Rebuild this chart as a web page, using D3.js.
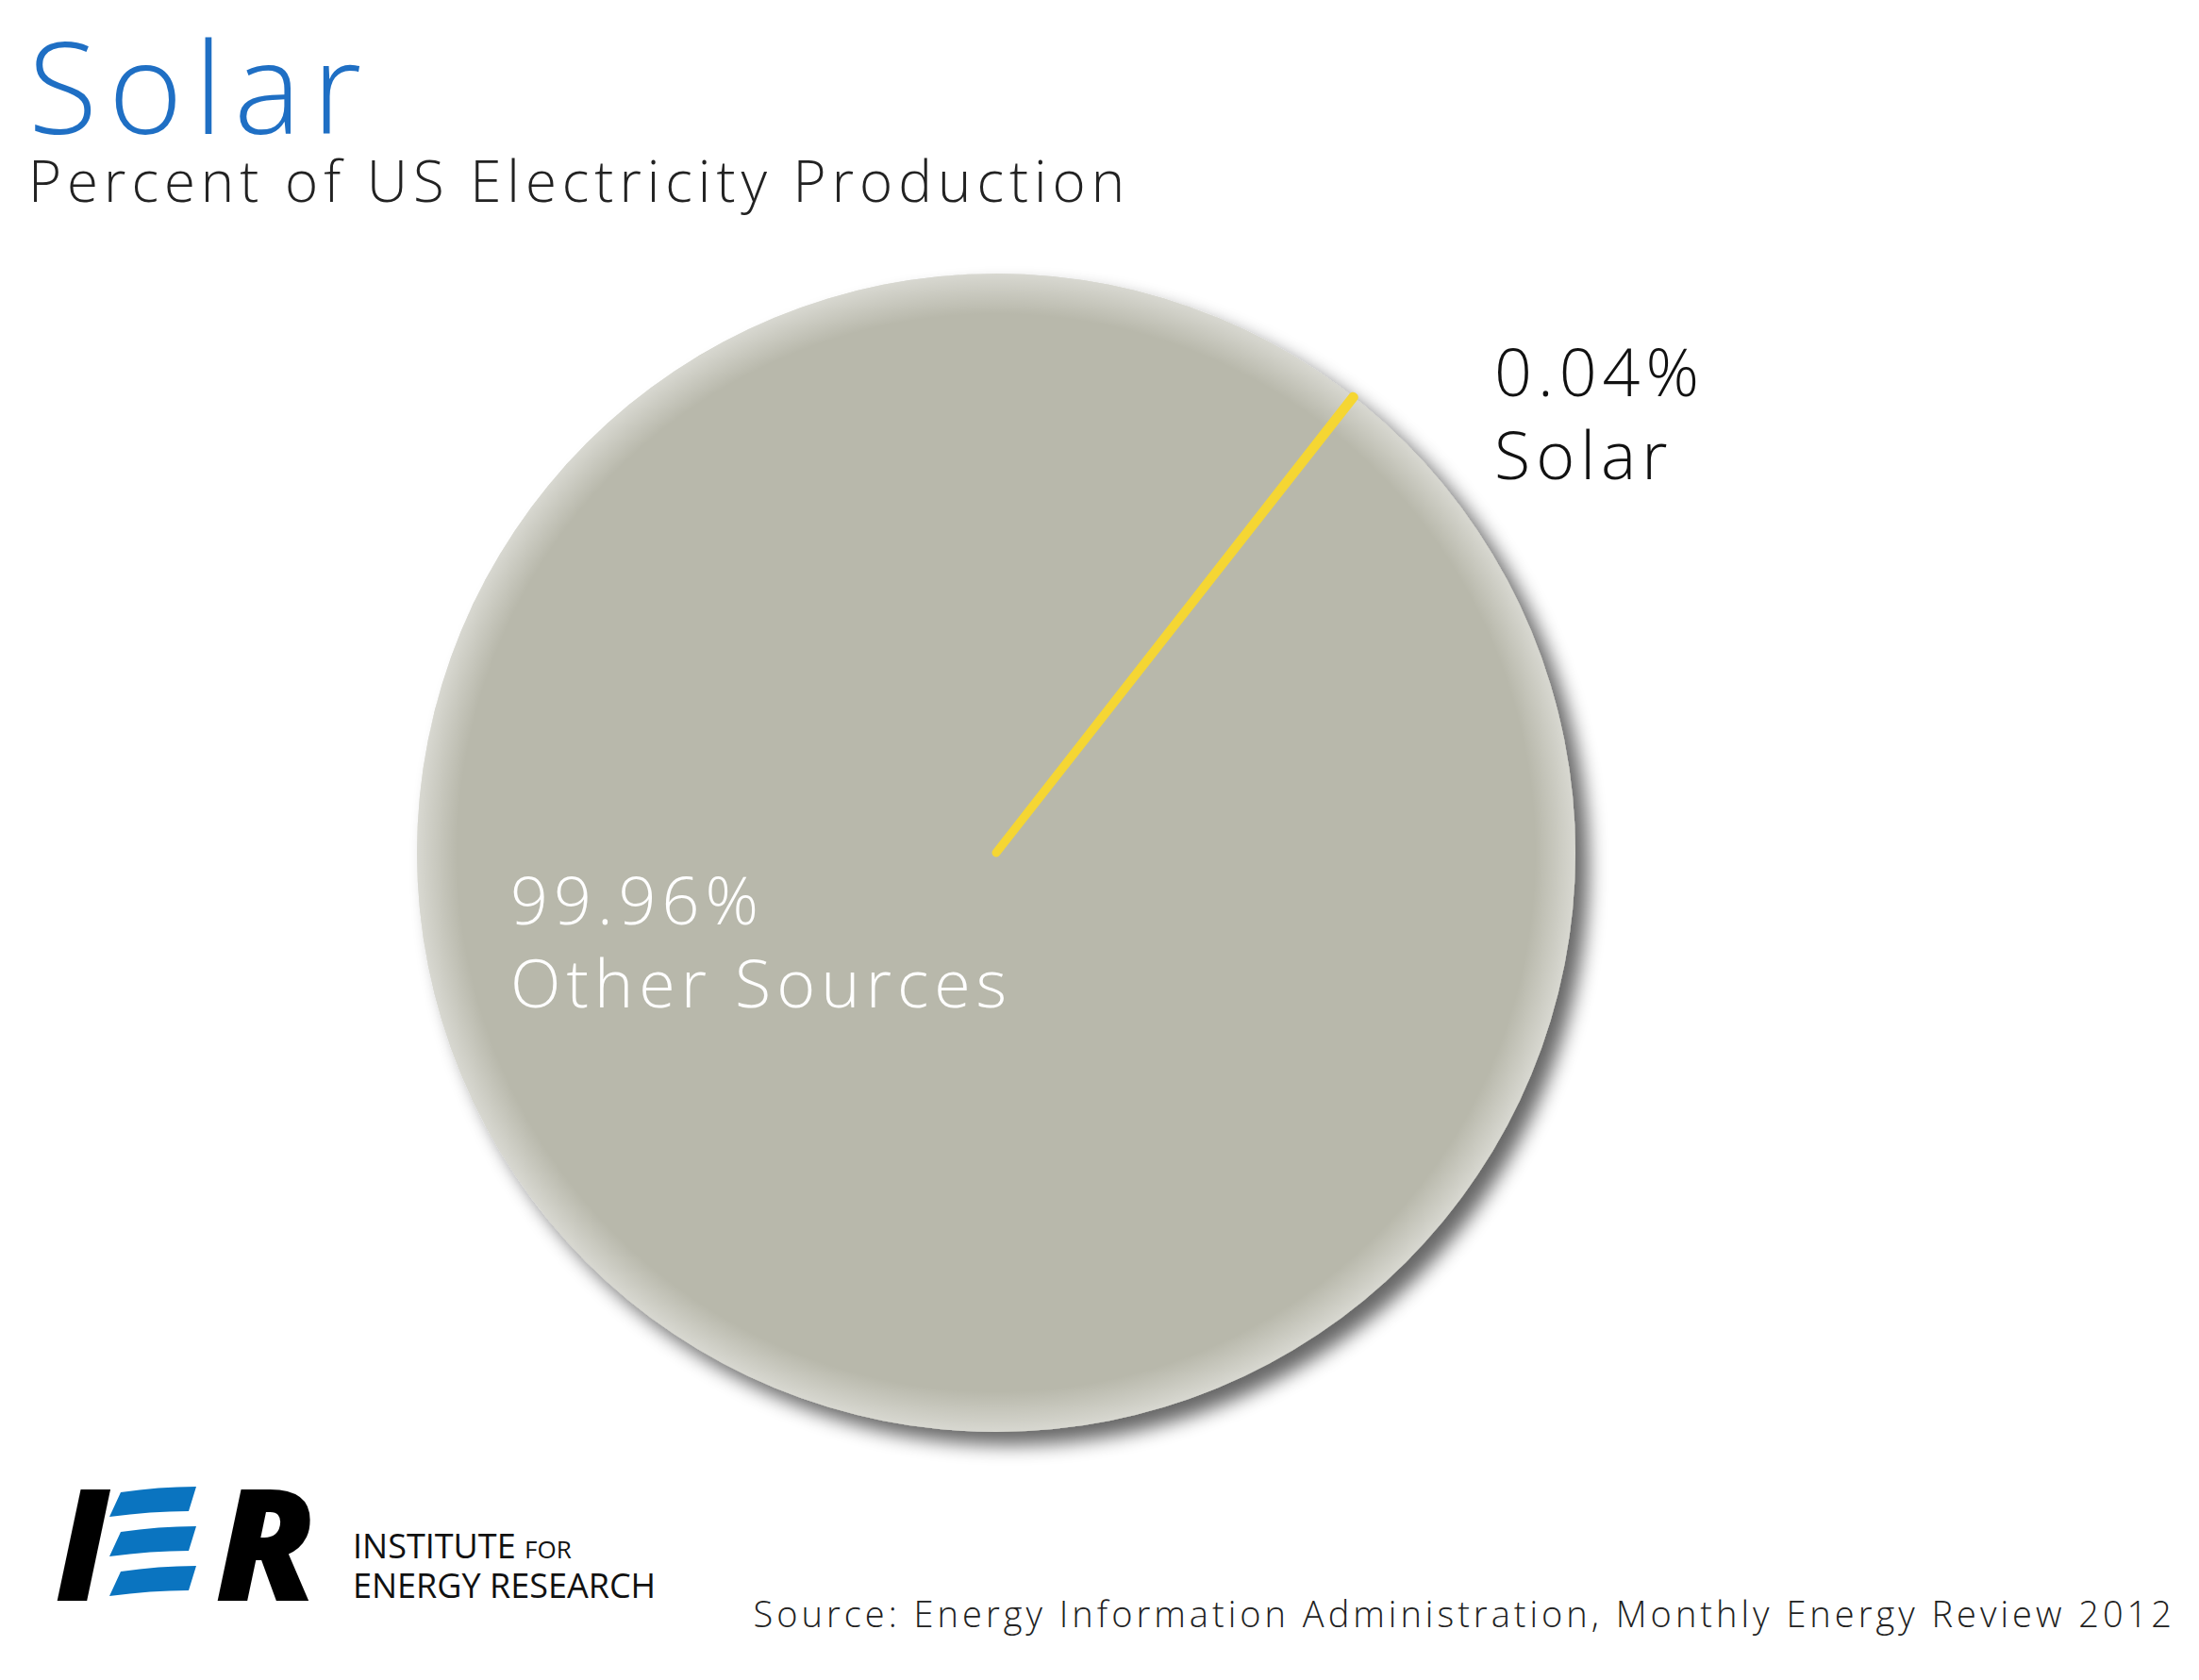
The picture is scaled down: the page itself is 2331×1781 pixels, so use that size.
<!DOCTYPE html>
<html><head><meta charset="utf-8">
<script src="https://cdn.jsdelivr.net/npm/d3@7"></script>
<style>body{margin:0;background:#fff}svg{display:block}text{font-family:"Open Sans",sans-serif}</style>
</head><body>
<svg id="chart" width="2331" height="1781"></svg>
<script>
var categories = ["Solar", "Other Sources"];
var values = [0.04, 99.96];
var valueLabels = ["0.04%", "99.96%"];

var width = 2331, height = 1781;
var cx = 1056, cy = 904, radius = 614;
var svg = d3.select("#chart");

var defs = svg.append("defs");
var f = defs.append("filter").attr("id", "shadow").attr("x", "-20%").attr("y", "-20%").attr("width", "140%").attr("height", "140%");
f.append("feGaussianBlur").attr("in", "SourceAlpha").attr("stdDeviation", 10).attr("result", "b");
f.append("feOffset").attr("in", "b").attr("dx", 14).attr("dy", 14).attr("result", "o");
f.append("feComponentTransfer").attr("in", "o").attr("result", "s")
  .append("feFuncA").attr("type", "linear").attr("slope", 0.6);
var m = f.append("feMerge");
m.append("feMergeNode").attr("in", "s");
m.append("feMergeNode").attr("in", "SourceGraphic");

var rg = defs.append("radialGradient").attr("id", "rim").attr("cx", "50%").attr("cy", "50%").attr("r", "50%");
rg.append("stop").attr("offset", "93%").attr("stop-color", "#fff").attr("stop-opacity", 0);
rg.append("stop").attr("offset", "100%").attr("stop-color", "#fff").attr("stop-opacity", 0.45);

// title
svg.append("text").attr("x", 30).attr("y", 142).attr("font-size", 134).attr("fill", "#1f6fc4")
  .attr("font-weight", 300).attr("letter-spacing", 12).text("Solar");
svg.append("text").attr("x", 30).attr("y", 214).attr("font-size", 60).attr("fill", "#222")
  .attr("font-weight", 300).attr("letter-spacing", 6).text("Percent of US Electricity Production");

var solarAngle = 38 * Math.PI / 180;
var pie = d3.pie().sort(null).value(function (d) { return d; })
  .startAngle(solarAngle).endAngle(solarAngle + 2 * Math.PI);
var arcs = pie(values);
var arc = d3.arc().innerRadius(0).outerRadius(radius);

var g = svg.append("g").attr("transform", "translate(" + cx + "," + cy + ")");
g.append("circle").attr("r", radius).attr("fill", "#b8b8ab").attr("filter", "url(#shadow)");
g.append("circle").attr("r", radius).attr("fill", "url(#rim)");
// draw the tiny solar slice last so its stroke sits on top
g.selectAll("path.slice").data(arcs.slice().reverse()).enter().append("path")
  .attr("class", "slice")
  .attr("d", arc)
  .attr("fill", function (d) { return d.index === 0 ? "#f5d633" : "#b8b8ab"; })
  .attr("fill-opacity", function (d) { return d.index === 0 ? 1 : 0; })
  .attr("stroke", function (d) { return d.index === 0 ? "#f5d633" : "none"; })
  .attr("stroke-width", 9)
  .attr("stroke-linejoin", "round");

// labels
var lab = [
  {x: 1584, y: 420, fill: "#111"},
  {x: 541, y: 980, fill: "#fff"}
];
lab.forEach(function (p, i) {
  var t = svg.append("text").attr("x", p.x).attr("y", p.y).attr("font-size", 70)
    .attr("fill", p.fill).attr("font-weight", 300).attr("letter-spacing", 6);
  t.append("tspan").text(valueLabels[i]);
  t.append("tspan").attr("x", p.x).attr("dy", 88).text(categories[i]);
});

// logo
var logo = svg.append("g");
logo.append("text").attr("x", 58).attr("y", 1697).attr("font-size", 165).attr("font-weight", 900)
  .attr("font-style", "italic").attr("font-family", "Liberation Sans, sans-serif").attr("fill", "#000").text("I");
[0, 1, 2].forEach(function (k) {
  logo.append("path")
    .attr("d", "M128," + (1582 + k * 42) + " q40,-6 80,-6 l-8,26 q-40,0 -84,6 z")
    .attr("fill", "#0a74c0");
});
logo.append("text").attr("x", 228).attr("y", 1697).attr("font-size", 165).attr("font-weight", 900)
  .attr("font-style", "italic").attr("font-family", "Liberation Sans, sans-serif").attr("fill", "#000").text("R");
var lt = logo.append("text").attr("font-family", "Liberation Sans, sans-serif").attr("fill", "#111");
lt.append("tspan").attr("x", 374).attr("y", 1652).attr("font-size", 36).text("INSTITUTE ");
lt.append("tspan").attr("font-size", 26).text("FOR");
logo.append("text").attr("x", 374).attr("y", 1694).attr("font-size", 36)
  .attr("font-family", "Liberation Sans, sans-serif").attr("fill", "#111").text("ENERGY RESEARCH");

svg.append("text").attr("x", 2306).attr("y", 1725).attr("text-anchor", "end").attr("font-size", 38)
  .attr("font-weight", 300).attr("letter-spacing", 4).attr("fill", "#222")
  .text("Source: Energy Information Administration, Monthly Energy Review 2012");
</script>
</body></html>
